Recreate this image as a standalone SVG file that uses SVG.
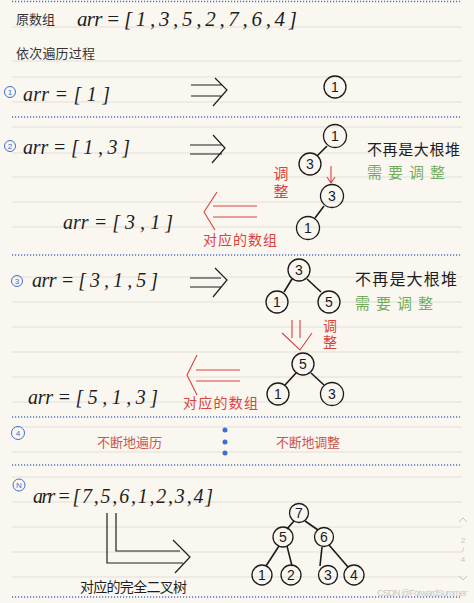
<svg xmlns="http://www.w3.org/2000/svg" width="474" height="603" viewBox="0 0 474 603">
<defs>
<style>
.hw{font-family:"Liberation Serif",serif;font-style:italic;fill:#1e1e1e}
.cn{font-family:"Noto Sans CJK SC",sans-serif;}
.blk{fill:#1e1e1e}
.red{fill:#d8443c}
.grn{fill:#72ad5e}
.vt{writing-mode:vertical-rl;letter-spacing:3px}
.rule{stroke:#e2dfd8;stroke-width:1}
.dot{stroke:#4f73c4;stroke-width:1.3;stroke-dasharray:1.2 1.8}
.node circle{fill:none;stroke:#1a1a1a;stroke-width:1.3}
.node text{font-family:"Liberation Sans",sans-serif;font-size:14px;text-anchor:middle;fill:#1a1a1a}
.edge{stroke:#1a1a1a;stroke-width:1.6;fill:none}
.arw{stroke:#1e1e1e;stroke-width:1.2;fill:none}
.rarw{stroke:#d8443c;stroke-width:1.1;fill:none}
.bc circle{fill:none;stroke:#3f6fd0;stroke-width:1}
.bc text{font-family:"Liberation Sans",sans-serif;font-size:8px;text-anchor:middle;fill:#3f6fd0}
.sb{stroke:#c4c4c4;stroke-width:1;fill:none}
</style>
</defs>
<rect width="474" height="603" fill="#faf7f1"/>
<g id="rules">
<line class="rule" x1="12" y1="27" x2="462" y2="27"/>
<line class="rule" x1="12" y1="61" x2="462" y2="61"/>
<line class="rule" x1="12" y1="77" x2="462" y2="77"/>
<line class="rule" x1="12" y1="102" x2="462" y2="102"/>
<line class="rule" x1="12" y1="127" x2="462" y2="127"/>
<line class="rule" x1="12" y1="153" x2="462" y2="153"/>
<line class="rule" x1="12" y1="177" x2="462" y2="177"/>
<line class="rule" x1="12" y1="202" x2="462" y2="202"/>
<line class="rule" x1="12" y1="227" x2="462" y2="227"/>
<line class="rule" x1="12" y1="277" x2="462" y2="277"/>
<line class="rule" x1="12" y1="302" x2="462" y2="302"/>
<line class="rule" x1="12" y1="327" x2="462" y2="327"/>
<line class="rule" x1="12" y1="352" x2="462" y2="352"/>
<line class="rule" x1="12" y1="377" x2="462" y2="377"/>
<line class="rule" x1="12" y1="402" x2="462" y2="402"/>
<line class="rule" x1="12" y1="427" x2="462" y2="427"/>
<line class="rule" x1="12" y1="452" x2="462" y2="452"/>
<line class="rule" x1="12" y1="477" x2="462" y2="477"/>
<line class="rule" x1="12" y1="502" x2="462" y2="502"/>
<line class="rule" x1="12" y1="527" x2="462" y2="527"/>
<line class="rule" x1="12" y1="552" x2="462" y2="552"/>
<line class="rule" x1="12" y1="577" x2="462" y2="577"/>
<line class="dot" x1="12" y1="1.5" x2="460" y2="1.5"/>
<line class="dot" x1="12" y1="117" x2="460" y2="117"/>
<line class="dot" x1="12" y1="255" x2="460" y2="255"/>
<line class="dot" x1="12" y1="417" x2="460" y2="417"/>
<line class="dot" x1="12" y1="465" x2="460" y2="465"/>
<line class="dot" x1="12" y1="597" x2="460" y2="597"/>
</g>

<g id="texts">
<text class="cn" x="16" y="24" font-size="13" fill="#333" textLength="39">原数组</text>
<text class="hw" x="77" y="26" font-size="21" textLength="220">arr = [ 1 , 3 , 5 , 2 , 7 , 6 , 4 ]</text>
<text class="cn" x="16" y="58" font-size="13" fill="#333" textLength="79">依次遍历过程</text>
<g class="bc"><circle cx="10" cy="92" r="5.5"/><text x="10" y="95">1</text></g>
<text class="hw" x="23" y="101" font-size="20" textLength="87">arr = [ 1 ]</text>
<g class="bc"><circle cx="10" cy="146" r="5.5"/><text x="10" y="149">2</text></g>
<text class="hw" x="23" y="154" font-size="20" textLength="107">arr = [ 1 , 3 ]</text>
<text class="hw" x="63" y="229" font-size="20" textLength="110">arr = [ 3 , 1 ]</text>
<text class="cn blk" x="367" y="155" font-size="15" textLength="93">不再是大根堆</text>
<text class="cn grn" x="367" y="178" font-size="15" textLength="78">需要调整</text>
<text class="cn red vt" x="281" y="166" font-size="15">调整</text>
<text class="cn red" x="203" y="245" font-size="14" textLength="74">对应的数组</text>
<g class="bc"><circle cx="17" cy="281" r="5.5"/><text x="17" y="284">3</text></g>
<text class="hw" x="32" y="287" font-size="20" textLength="126">arr = [ 3 , 1 , 5 ]</text>
<text class="cn blk" x="355" y="285" font-size="16" textLength="102">不再是大根堆</text>
<text class="cn grn" x="355" y="309" font-size="15" textLength="78">需要调整</text>
<text class="cn red vt" x="330" y="319" font-size="14" style="letter-spacing:2px">调整</text>
<text class="cn red" x="183" y="408" font-size="14" textLength="75">对应的数组</text>
<text class="hw" x="28" y="404" font-size="20" textLength="130">arr = [ 5 , 1 , 3 ]</text>
<g class="bc"><circle cx="18" cy="433" r="6.5"/><text x="18" y="436">4</text></g>
<text class="cn" x="97" y="447" font-size="13" fill="#c9574e" textLength="65">不断地遍历</text>
<text class="cn" x="276" y="447" font-size="13" fill="#c9574e" textLength="64">不断地调整</text>
<circle cx="225" cy="430" r="2.5" fill="#3a6fd8"/>
<circle cx="225" cy="442" r="2.5" fill="#3a6fd8"/>
<circle cx="225" cy="453" r="2.5" fill="#3a6fd8"/>
<g class="bc"><circle cx="19" cy="485" r="6"/><text x="19" y="488">N</text></g>
<text class="hw" x="33" y="503" font-size="20" textLength="180">arr = [ 7 , 5 , 6 , 1 , 2 , 3 , 4 ]</text>
<text class="cn blk" x="80" y="592" font-size="14" textLength="107">对应的完全二叉树</text>
<text x="377" y="596" font-family="Liberation Sans,sans-serif" font-size="9" fill="#c8c8c8" textLength="90">CSDN @ForwardSummer</text>
<polyline class="sb" points="459,522 463,518 467,522"/>
<text x="463" y="543" font-family="Liberation Sans,sans-serif" font-size="8" fill="#c4c4c4" text-anchor="middle">2</text>
<text x="463" y="552" font-family="Liberation Sans,sans-serif" font-size="8" fill="#c4c4c4" text-anchor="middle">/</text>
<text x="463" y="562" font-family="Liberation Sans,sans-serif" font-size="8" fill="#c4c4c4" text-anchor="middle">4</text>
<polyline class="sb" points="459,576 463,580 467,576"/>
</g>

<g id="connectors">
<path class="arw" d="M191 85H222M191 96H222M215 78L227 90L213 106"/>
<path class="arw" d="M190 145H222M190 154H222M213 135L225 148L212 163"/>
<path class="arw" d="M190 278H221M190 287H221M215 268L227 280L213 297"/>
<path class="rarw" d="M213 206H257M213 217H257M217 192L204 212L215 230"/>
<path class="rarw" d="M196 370H240M196 381H240M197 355L187 375L197 395"/>
<path class="rarw" d="M292 320V338M300 320V338M282 333L300 350L312 333"/>
<path class="rarw" d="M331 166V182M327 177L331 183L335 177"/>
<path class="arw" d="M107 513V563H183M116 513V551H180M173 540L190 557L175 573"/>
<line class="edge" x1="327" y1="146" x2="317" y2="156"/>
<line class="edge" x1="324" y1="206" x2="315" y2="218"/>
<line class="edge" x1="292" y1="279" x2="284" y2="292"/>
<line class="edge" x1="307" y1="279" x2="321" y2="292"/>
<line class="edge" x1="296" y1="373" x2="285" y2="385"/>
<line class="edge" x1="311" y1="373" x2="324" y2="385"/>
<line class="edge" x1="294" y1="521" x2="287" y2="529"/>
<line class="edge" x1="305" y1="521" x2="318" y2="530"/>
<line class="edge" x1="279" y1="546" x2="266" y2="566"/>
<line class="edge" x1="287" y1="546" x2="292" y2="566"/>
<line class="edge" x1="322" y1="547" x2="320" y2="566"/>
<line class="edge" x1="329" y1="545" x2="348" y2="567"/>
</g>

<g id="n1a" class="node"><circle cx="335" cy="87" r="11"/><text x="335" y="92">1</text></g>
<g id="n2a" class="node"><circle cx="335" cy="136" r="11.5"/><text x="335" y="141">1</text></g>
<g id="n2b" class="node"><circle cx="310" cy="164" r="11"/><text x="310" y="169">3</text></g>
<g id="n2c" class="node"><circle cx="332" cy="196" r="11.5"/><text x="332" y="201">3</text></g>
<g id="n2d" class="node"><circle cx="308" cy="228" r="11.5"/><text x="308" y="233">1</text></g>
<g id="n3a" class="node"><circle cx="299" cy="270" r="11"/><text x="299" y="275">3</text></g>
<g id="n3b" class="node"><circle cx="277" cy="302" r="11"/><text x="277" y="307">1</text></g>
<g id="n3c" class="node"><circle cx="329" cy="302" r="11"/><text x="329" y="307">5</text></g>
<g id="n3d" class="node"><circle cx="303" cy="364" r="11"/><text x="303" y="369">5</text></g>
<g id="n3e" class="node"><circle cx="278" cy="394" r="11"/><text x="278" y="399">1</text></g>
<g id="n3f" class="node"><circle cx="332" cy="394" r="11.5"/><text x="332" y="399">3</text></g>
<g id="n7" class="node"><circle cx="299" cy="513" r="9.5"/><text x="299" y="518">7</text></g>
<g id="n5" class="node"><circle cx="283" cy="537" r="10"/><text x="283" y="542">5</text></g>
<g id="n6" class="node"><circle cx="324" cy="537" r="9.5"/><text x="324" y="542">6</text></g>
<g id="nl1" class="node"><circle cx="262" cy="575" r="10"/><text x="262" y="580">1</text></g>
<g id="nl2" class="node"><circle cx="291" cy="575" r="10"/><text x="291" y="580">2</text></g>
<g id="nl3" class="node"><circle cx="328" cy="575" r="9.5"/><text x="328" y="580">3</text></g>
<g id="nl4" class="node"><circle cx="354" cy="575" r="10"/><text x="354" y="580">4</text></g>
</svg>
